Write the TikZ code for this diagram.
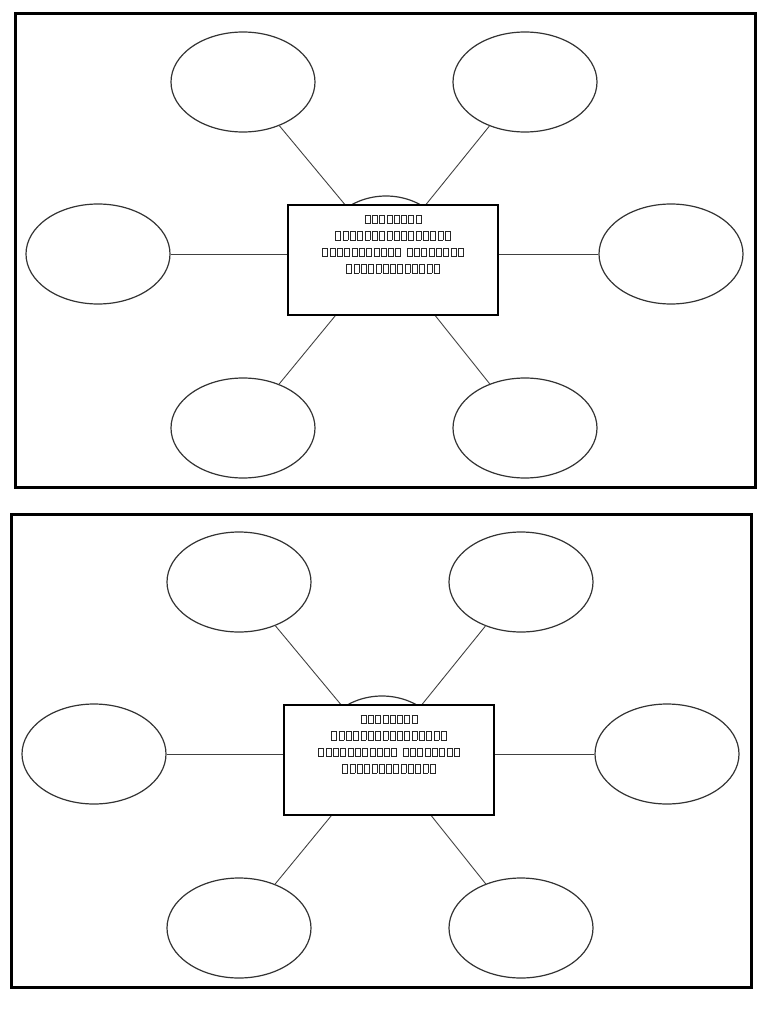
\documentclass[tikz,border=0pt]{standalone}
\usepackage{fontspec}
\usetikzlibrary{shapes.geometric}
\newcommand\tb{\kern0.8pt{\setlength\fboxsep{0pt}\setlength\fboxrule{0.7pt}\fbox{\rule{0pt}{8pt}\kern4.3pt}}\kern0.8pt}
\newcommand\tbs[1]{\foreach \i in {1,...,#1}{\tb}}
\begin{document}
\begin{tikzpicture}[x=1pt,y=-1pt,
  bub/.style={draw=black!80,line width=1.2pt,ellipse,minimum width=144pt,minimum height=100pt,inner sep=0pt},
  hid/.style={draw=black!80,line width=1.2pt,ellipse,minimum width=130pt,minimum height=116pt,inner sep=0pt},
  cbox/.style={draw,line width=2pt,fill=white,minimum width=210pt,minimum height=110pt,inner sep=0pt},
  conn/.style={draw=black!75,line width=0.9pt},
  frame/.style={draw,line width=3pt},
  lbl/.style={font=\fontsize{10}{16.5}\selectfont,align=center,text=black!85}]
\useasboundingbox (0,0) rectangle (768,1024);
\newcommand\panel[3]{%
 \begin{scope}[shift={(#1,#2)}]
  \draw[frame] (15,14) rectangle (755,487);
  \node[hid] (c#3) at (386,254) {};
  \node[bub] (a#3) at (243,82) {};
  \node[bub] (b#3) at (525,82) {};
  \node[bub] (l#3) at (98,254) {};
  \node[bub] (r#3) at (671,254) {};
  \node[bub] (d#3) at (243,428) {};
  \node[bub] (e#3) at (525,428) {};
  \foreach \n in {a,b,l,r,d,e} \draw[conn] (\n#3) -- (c#3);
  \node[cbox] (x#3) at (393,260) {};
  \node[lbl,anchor=north] (t#3) at (393,211) {\tbs{8}\\\tbs{16}\\\tbs{11}\kern4pt\tbs{8}\\\tbs{13}};
 \end{scope}}
\panel{0}{0}{p}
\panel{-4}{500}{q}
\end{tikzpicture}
\end{document}
